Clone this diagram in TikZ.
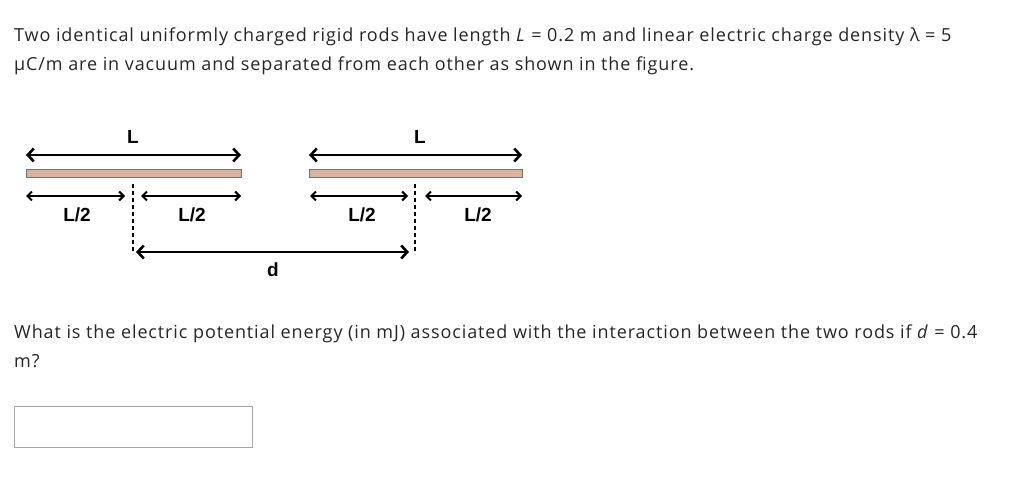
\documentclass[tikz,border=0pt]{standalone}
\usepackage{fontspec}
\setmainfont{Open Sans}[LetterSpace=5]
\newfontfamily\labfont{Liberation Sans}
\usetikzlibrary{arrows.meta}
\definecolor{rodc}{RGB}{219,178,155}
\begin{document}
\begin{tikzpicture}[x=1pt,y=-1pt,
  txt/.style={anchor=base west,inner sep=0pt,font=\fontsize{18}{21}\selectfont,text=black!85},
  lab/.style={font=\labfont\bfseries\fontsize{19}{22}\selectfont,inner sep=0pt},
  dim/.style={line width=2.6pt,{Straight Barb[length=6pt,width=13pt]}-{Straight Barb[length=6pt,width=13pt]}},
  hdim/.style={line width=2pt,{Straight Barb[length=4.5pt,width=9pt]}-{Straight Barb[length=4.5pt,width=9pt]}},
  rod/.style={draw=black!55,fill=rodc,line width=0.7pt},
  dsh/.style={dash pattern=on 4pt off 3pt,line width=1.3pt}]
\useasboundingbox (0,0) rectangle (1024,481);
\node[txt] (t1) at (14,42) {Two identical uniformly charged rigid rods have length \textit{L} = 0.2 m and linear electric charge density λ = 5};
\node[txt] (t2) at (14,71) {μC/m are in vacuum and separated from each other as shown in the figure.};
\node[txt] (q1) at (14,338) {What is the electric potential energy (in mJ) associated with the interaction between the two rods if \textit{d} = 0.4};
\node[txt] (q2) at (14,367) {m?};
\draw[black!35,line width=0.8pt] (14,406) rectangle (252,447);
% rods
\draw[rod] (26,169) rectangle (241,177);
\draw[rod] (309,169) rectangle (522,177);
% L arrows
\coordinate (a1) at (26,155); \coordinate (a2) at (241,155);
\coordinate (b1) at (309,155); \coordinate (b2) at (522,155);
\draw[dim] (a1) -- (a2);
\draw[dim] (b1) -- (b2);
\node[lab] (L1) at (133,137) {L};
\node[lab] (L2) at (420,137) {L};
% dashed
\coordinate (d1t) at (133,184); \coordinate (d1b) at (133,254);
\coordinate (d2t) at (415,184); \coordinate (d2b) at (415,254);
\draw[dsh] (d1t) -- (d1b);
\draw[dsh] (d2t) -- (d2b);
% half arrows
\coordinate (h1) at (26,196); \coordinate (h2) at (125,196);
\coordinate (h3) at (141,196); \coordinate (h4) at (241,196);
\coordinate (h5) at (310,196); \coordinate (h6) at (408,196);
\coordinate (h7) at (425,196); \coordinate (h8) at (522,196);
\draw[hdim] (h1) -- (h2);
\draw[hdim] (h3) -- (h4);
\draw[hdim] (h5) -- (h6);
\draw[hdim] (h7) -- (h8);
\node[lab] (m1) at (77,215) {L/2};
\node[lab] (m2) at (192,215) {L/2};
\node[lab] (m3) at (362,215) {L/2};
\node[lab] (m4) at (478,215) {L/2};
% d
\coordinate (e1) at (136,252); \coordinate (e2) at (409,252);
\draw[dim] (e1) -- (e2);
\node[lab] (dl) at (273,270) {d};
\end{tikzpicture}
\end{document}
